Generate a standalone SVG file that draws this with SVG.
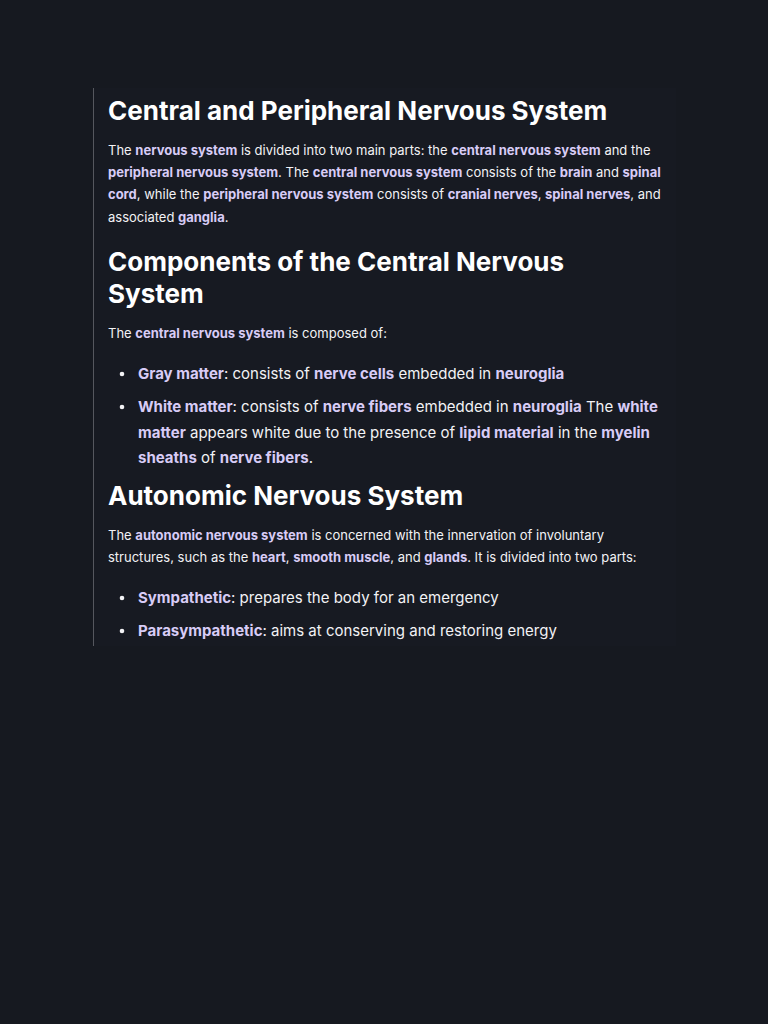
<svg xmlns="http://www.w3.org/2000/svg" width="768" height="1024" viewBox="0 0 768 1024">
<style>
text{font-family:Inter,"Noto Sans",sans-serif;fill:#f2f2f5}
.h{font-size:26px;font-weight:700;fill:#ffffff}
.p{font-size:13px}
.l{font-size:15px}
.b{font-weight:700;fill:#d8ccf6}
</style>
<rect width="768" height="1024" fill="#161920"/>
<rect x="94" y="88" width="582" height="558" fill="#171a22"/>
<line x1="93.5" y1="88" x2="93.5" y2="646" stroke="#55575e" stroke-width="1"/>
<text class="h" x="108" y="120">Central and Peripheral Nervous System</text>
<text class="p" x="108" y="155">The <tspan class="b">nervous system</tspan> is divided into two main parts: the <tspan class="b">central nervous system</tspan> and the</text>
<text class="p" x="108" y="177"><tspan class="b">peripheral nervous system</tspan>. The <tspan class="b">central nervous system</tspan> consists of the <tspan class="b">brain</tspan> and <tspan class="b">spinal</tspan></text>
<text class="p" x="108" y="199"><tspan class="b">cord</tspan>, while the <tspan class="b">peripheral nervous system</tspan> consists of <tspan class="b">cranial nerves</tspan>, <tspan class="b">spinal nerves</tspan>, and</text>
<text class="p" x="108" y="222">associated <tspan class="b">ganglia</tspan>.</text>
<text class="h" x="108" y="271">Components of the Central Nervous</text>
<text class="h" x="108" y="303">System</text>
<text class="p" x="108" y="338">The <tspan class="b">central nervous system</tspan> is composed of:</text>
<circle cx="122" cy="374" r="2.3" fill="#f2f2f5"/>
<text class="l" x="138" y="379"><tspan class="b">Gray matter</tspan>: consists of <tspan class="b">nerve cells</tspan> embedded in <tspan class="b">neuroglia</tspan></text>
<circle cx="122" cy="407" r="2.3" fill="#f2f2f5"/>
<text class="l" x="138" y="412"><tspan class="b">White matter</tspan>: consists of <tspan class="b">nerve fibers</tspan> embedded in <tspan class="b">neuroglia</tspan> The <tspan class="b">white</tspan></text>
<text class="l" x="138" y="438"><tspan class="b">matter</tspan> appears white due to the presence of <tspan class="b">lipid material</tspan> in the <tspan class="b">myelin</tspan></text>
<text class="l" x="138" y="463"><tspan class="b">sheaths</tspan> of <tspan class="b">nerve fibers</tspan>.</text>
<text class="h" x="108" y="505">Autonomic Nervous System</text>
<text class="p" x="108" y="540">The <tspan class="b">autonomic nervous system</tspan> is concerned with the innervation of involuntary</text>
<text class="p" x="108" y="562">structures, such as the <tspan class="b">heart</tspan>, <tspan class="b">smooth muscle</tspan>, and <tspan class="b">glands</tspan>. It is divided into two parts:</text>
<circle cx="122" cy="598" r="2.3" fill="#f2f2f5"/>
<text class="l" x="138" y="603"><tspan class="b">Sympathetic</tspan>: prepares the body for an emergency</text>
<circle cx="122" cy="631" r="2.3" fill="#f2f2f5"/>
<text class="l" x="138" y="636"><tspan class="b">Parasympathetic</tspan>: aims at conserving and restoring energy</text>
</svg>
